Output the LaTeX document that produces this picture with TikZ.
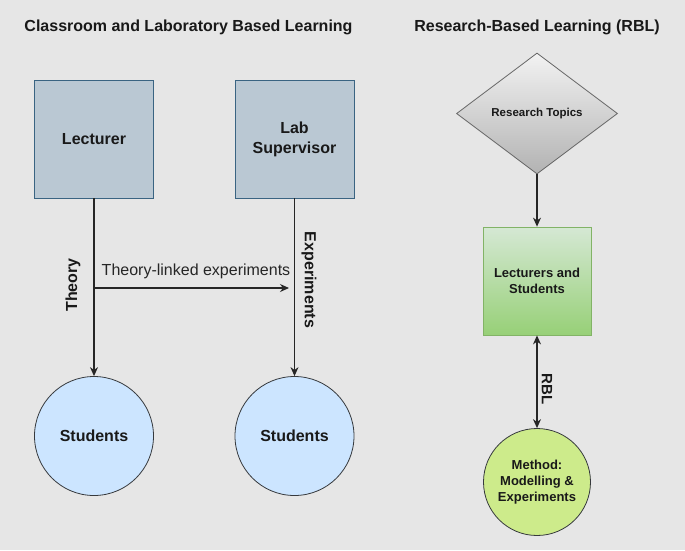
\documentclass[tikz,border=0pt]{standalone}
\usepackage{fontspec}
\setmainfont{Liberation Sans}
\usetikzlibrary{shapes.geometric,arrows.meta}

\definecolor{bgcol}{HTML}{E6E6E6}
\definecolor{boxfill}{HTML}{BAC8D3}
\definecolor{boxline}{HTML}{3A6482}
\definecolor{studfill}{HTML}{CCE5FF}
\definecolor{circline}{HTML}{36393D}
\definecolor{methfill}{HTML}{CDEB8B}
\definecolor{greentop}{HTML}{D5E8D4}
\definecolor{greenbot}{HTML}{97D077}
\definecolor{greenline}{HTML}{82B366}

\begin{document}
\begin{tikzpicture}[x=1pt, y=-1pt,
    title/.style={font=\fontsize{16}{19}\selectfont\bfseries, text=black!90},
    staffbox/.style={draw=boxline, fill=boxfill, line width=0.8pt, minimum width=119pt,
        minimum height=118pt, inner sep=0pt, align=center, text=black!90,
        font=\fontsize{16}{20}\selectfont\bfseries},
    studnode/.style={circle, draw=circline, fill=studfill, line width=0.8pt, minimum size=119pt,
        inner sep=0pt, text=black!90, font=\fontsize{16}{20}\selectfont\bfseries},
    smalltext/.style={align=center, text=black!90, font=\fontsize{13}{16}\selectfont\bfseries},
    arr/.style={-{Stealth[length=9pt,width=8pt]}, line width=1.1pt, black!85},
    lbl/.style={text=black!90, font=\fontsize{16}{19}\selectfont\bfseries}
]
    % Background
    \fill[bgcol] (0,0) rectangle (685,550);

    % Left diagram: classroom and laboratory
    \node[title] (lefttitle) at (188.5,27) {Classroom and Laboratory Based Learning};

    % Boxes
    \node[staffbox] (lecturer) at (94,139) {Lecturer};
    \node[staffbox] (labsup) at (294.5,139) {Lab\\Supervisor};

    % Circles
    \node[studnode] (stud1) at (94,436) {Students};
    \node[studnode] (stud2) at (294.5,436) {Students};

    % Arrows
    \draw[arr] (lecturer.south) -- (stud1.north);
    \draw[arr] (labsup.south) -- (stud2.north);
    \coordinate (branch) at (94,288);
    \coordinate (linkend) at (289,288);
    \draw[arr] (branch) -- (linkend);

    % Labels
    \node[lbl, rotate=90] (theorylbl) at (73,285) {Theory};
    \node[lbl, rotate=-90] (explbl) at (309,280) {Experiments};
    \node[text=black!85, font=\fontsize{16}{19}\selectfont] (linklbl) at (196,271) {Theory-linked experiments};

    % Right diagram: research-based learning
    \node[title] (righttitle) at (537,27) {Research-Based Learning (RBL)};

    % Diamond
    \node[diamond, draw=black!60, line width=0.8pt, top color=white!95!black, bottom color=black!30,
        minimum width=161pt, minimum height=121pt, inner sep=0pt, smalltext,
        font=\fontsize{11.5}{14}\selectfont\bfseries] (topics) at (537,113.5) {Research Topics};

    % Green box
    \node[draw=greenline, line width=0.8pt, top color=greentop, bottom color=greenbot,
        minimum width=108pt, minimum height=108pt, inner sep=0pt, smalltext] (team) at (537,281)
        {Lecturers and\\Students};

    % Method circle
    \node[circle, draw=circline, fill=methfill, line width=0.8pt, minimum size=107pt,
        inner sep=0pt, smalltext] (method) at (537,482) {Method:\\Modelling \&\\Experiments};

    % Arrows
    \draw[arr] (topics.south) -- (team.north);
    \draw[arr, {Stealth[length=9pt,width=8pt]}-{Stealth[length=9pt,width=8pt]}] (team.south) -- (method.north);

    % Label
    \node[lbl, rotate=-90, font=\fontsize{15}{18}\selectfont\bfseries] (rbllbl) at (547,389) {RBL};
\end{tikzpicture}
\end{document}
